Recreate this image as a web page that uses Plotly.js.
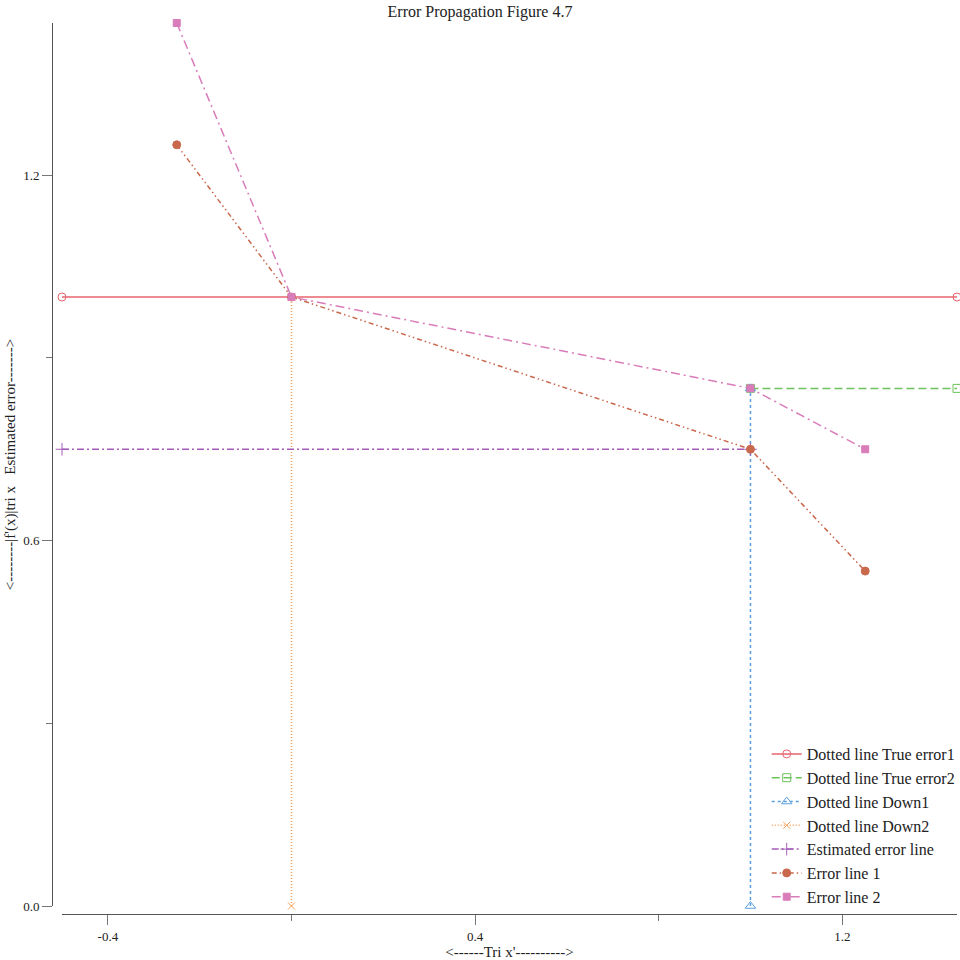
<!DOCTYPE html>
<html>
<head>
<meta charset="utf-8">
<script src="https://cdn.plot.ly/plotly-3.0.1.min.js"></script>
<style>html,body{margin:0;padding:0;background:#fff;}#chart{width:960px;height:960px;}</style>
</head>
<body>
<div id="chart"></div>
<script>
// ---- data ----
var seriesNames = ["Dotted line True error1", "Dotted line True error2", "Dotted line Down1", "Dotted line Down2", "Estimated error line", "Error line 1", "Error line 2"];
var trueErr1X = [-0.5, 1.45];
var trueErr1Y = [1.0, 1.0];
var trueErr2X = [1.0, 1.45];
var trueErr2Y = [0.85, 0.85];
var down1X = [1.0, 1.0];
var down1Y = [0.0, 0.85];
var down2X = [0.0, 0.0];
var down2Y = [0.0, 1.0];
var estX = [-0.5, 1.0];
var estY = [0.75, 0.75];
var err1X = [-0.25, 0.0, 1.0, 1.25];
var err1Y = [1.25, 1.0, 0.75, 0.55];
var err2X = [-0.25, 0.0, 1.0, 1.25];
var err2Y = [1.45, 1.0, 0.85, 0.75];
var xTickVals = [-0.4, 0.4, 1.2];
var xTickLabels = ["-0.4", "0.4", "1.2"];
var xMinorVals = [0.0, 0.8];
var yTickVals = [0.0, 0.6, 1.2];
var yTickLabels = ["0.0", "0.6", "1.2"];
var yMinorVals = [0.3, 0.9];

// ---- styles ----
var colors = ["#E9646E", "#6CC35B", "#5AA0E0", "#F5A05A", "#A55DB8", "#C9684C", "#D97CBA"];
var dashes = ["solid", "8px,4px", "3px,3px", "1px,2px", "7px,3px,2px,3px", "5px,3px,1.5px,3px,1.5px,3px", "9px,4px,2px,4px"];
var symbols = ["circle-open", "square-open", "triangle-up-open", "x-thin-open", "cross-thin-open", "circle", "square"];
var msizes = [8, 8, 9, 7, 9, 8, 7];
var xs = [trueErr1X, trueErr2X, down1X, down2X, estX, err1X, err2X];
var ys = [trueErr1Y, trueErr2Y, down1Y, down2Y, estY, err1Y, err2Y];

var traces = seriesNames.map(function (n, i) {
  return {
    type: "scatter", mode: "lines+markers", name: n,
    x: xs[i], y: ys[i], cliponaxis: false,
    line: {color: colors[i], width: 1.5, dash: dashes[i]},
    marker: {symbol: symbols[i], size: msizes[i], color: colors[i], line: {color: colors[i], width: 1}}
  };
});

var font = "'Liberation Serif', 'Times New Roman', serif";
var layout = {
  width: 960, height: 960,
  paper_bgcolor: "#fff", plot_bgcolor: "#fff",
  margin: {l: 52, r: 3, t: 23, b: 46, pad: 0, autoexpand: false},
  font: {family: font, size: 13, color: "#222"},
  title: {text: "Error Propagation Figure 4.7", font: {family: font, size: 16, color: "#222"},
          xref: "container", x: 0.5, xanchor: "center", yref: "container", y: 0.9885, yanchor: "middle"},
  xaxis: {
    domain: [10 / 905, 1], range: [-0.5, 1.45], anchor: "free", position: 0,
    showgrid: false, zeroline: false, showline: true, linecolor: "#555", linewidth: 1,
    tickmode: "array", tickvals: xTickVals, ticktext: xTickLabels,
    ticks: "outside", ticklen: 10, tickcolor: "#777", tickwidth: 1,
    minor: {tickmode: "array", tickvals: xMinorVals, ticks: "outside", ticklen: 6, tickcolor: "#777", tickwidth: 1, showgrid: false},
    tickfont: {family: font, size: 13, color: "#222"},
    title: {text: "<------Tri x'---------->", font: {family: font, size: 15, color: "#222"}, standoff: 2}
  },
  yaxis: {
    domain: [8 / 891, 1], range: [0, 1.45], anchor: "free", position: 0,
    showgrid: false, zeroline: false, showline: true, linecolor: "#555", linewidth: 1,
    tickmode: "array", tickvals: yTickVals, ticktext: yTickLabels,
    ticks: "outside", ticklen: 10, tickcolor: "#777", tickwidth: 1,
    minor: {tickmode: "array", tickvals: yMinorVals, ticks: "outside", ticklen: 6, tickcolor: "#777", tickwidth: 1, showgrid: false},
    tickfont: {family: font, size: 13, color: "#222"},
    title: {text: "<--------|f'(x)|tri x\u00a0\u00a0\u00a0Estimated error------->", font: {family: font, size: 15, color: "#222"}, standoff: 2}
  },
  showlegend: true,
  legend: {x: 1.003, xanchor: "right", xref: "paper", y: 0, yanchor: "bottom", yref: "paper",
           bgcolor: "rgba(0,0,0,0)", font: {family: font, size: 16, color: "#222"}, itemwidth: 30, tracegroupgap: 0}
};

Plotly.newPlot("chart", traces, layout, {displayModeBar: false, staticPlot: true});
</script>
</body>
</html>
